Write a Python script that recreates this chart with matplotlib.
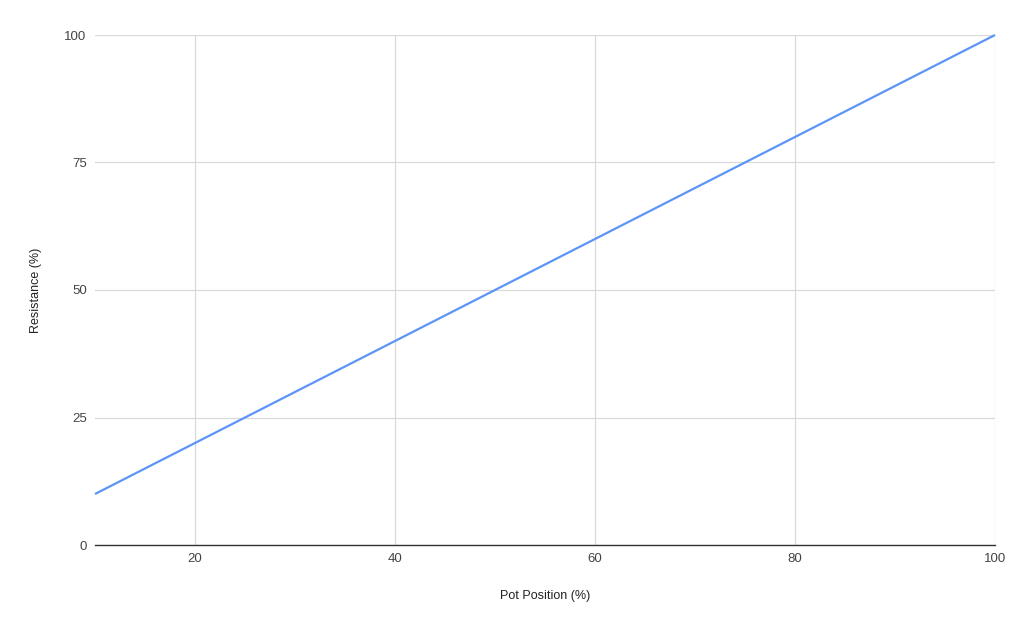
import matplotlib
matplotlib.use("Agg")
import matplotlib.pyplot as plt

# Данные: положение потенциометра и сопротивление, %
pot_position = [10, 20, 30, 40, 50, 60, 70, 80, 90, 100]
resistance = [10, 20, 30, 40, 50, 60, 70, 80, 90, 100]
x_ticks = [20, 40, 60, 80, 100]
y_ticks = [0, 25, 50, 75, 100]

plt.rcParams['font.family'] = ['Liberation Sans', 'DejaVu Sans']

fig = plt.figure(figsize=(10.24, 6.2), dpi=100)
ax = fig.add_axes([95 / 1024, 75 / 620, 900 / 1024, 510 / 620])

ax.plot(pot_position, resistance, color="#5b95f7", linewidth=1.6,
        solid_capstyle="butt", zorder=3, clip_on=False)

ax.set_xlim(10, 100)
ax.set_ylim(0, 100)
ax.set_xticks(x_ticks)
ax.set_yticks(y_ticks)

# Сетка
ax.grid(True, color="#d9d9d9", linewidth=0.9)
for name in ["top", "right", "left"]:
    ax.spines[name].set_visible(False)
ax.spines["bottom"].set_color("#333333")
ax.spines["bottom"].set_linewidth(1.0)
ax.spines["bottom"].set_zorder(4)

ax.tick_params(axis="both", length=0, labelsize=9.5, colors="#444444")
ax.tick_params(axis="x", pad=6)
ax.tick_params(axis="y", pad=6)

ax.set_xlabel("Pot Position (%)", fontsize=9, color="#222222", labelpad=18)
ax.set_ylabel("Resistance (%)", fontsize=9, color="#222222", labelpad=16)

fig.savefig("out.png", dpi=100)
